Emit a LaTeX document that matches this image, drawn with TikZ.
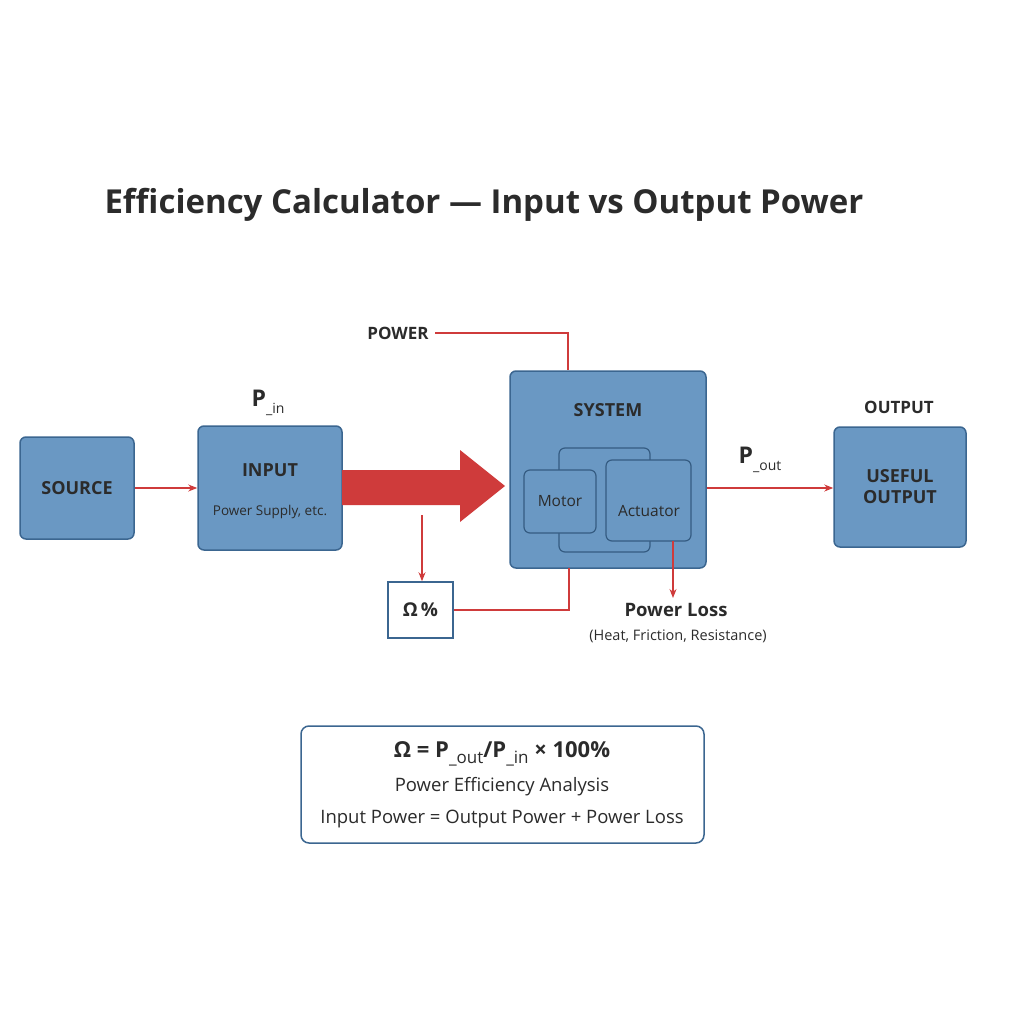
\documentclass[tikz,border=0pt]{standalone}
\usepackage{fontspec}
\setmainfont{Open Sans}
\usetikzlibrary{arrows.meta}
\definecolor{bfill}{HTML}{6A98C3}
\definecolor{bdraw}{HTML}{3B6690}
\definecolor{red1}{HTML}{CF3B3B}
\definecolor{txt}{HTML}{2B2B2B}
\begin{document}
\begin{tikzpicture}[x=1pt,y=-1pt,
 box/.style={draw=bdraw,fill=bfill,line width=1.5pt,rounded corners=6pt,inner sep=0},
 inner/.style={draw=bdraw!90!black,fill=bfill,line width=1.2pt,rounded corners=6pt},
 wbox/.style={draw=bdraw,fill=white,line width=1.5pt,inner sep=0},
 rl/.style={draw=red1,line width=1.2pt},
 ra/.style={rl,-{Stealth[length=9pt,width=7pt]}},
 lab/.style={text=txt,font=\bfseries\fontsize{18}{21}\selectfont},
 every node/.style={text=txt}]
\path[use as bounding box] (0,0) rectangle (1024,1024);
\node[font=\bfseries\fontsize{33}{38}\selectfont] (title) at (484,205) {Efficiency Calculator — Input vs Output Power};
\node[box,minimum width=114pt,minimum height=102pt] (src) at (77,488) {};
\node[lab] at (77,488) {SOURCE};
\node[box,minimum width=144pt,minimum height=124pt] (inp) at (270,488) {};
\node[lab] at (270,470) {INPUT};
\node[font=\fontsize{13.5}{15}\selectfont] at (270,512) {Power Supply, etc.};
\node[font=\bfseries\fontsize{23}{26}\selectfont] (pin) at (268,403) {P\raisebox{-0.5ex}{\fontsize{14}{15}\mdseries\selectfont \_in}};
\fill[red1] (342,470) -- (460,470) -- (460,450) -- (505,486) -- (460,522) -- (460,505) -- (342,505) -- cycle;
\node[box,minimum width=196pt,minimum height=197pt] (sys) at (608,469.5) {};
\node[lab] at (608,410) {SYSTEM};
\draw[inner] (559,448) rectangle (650,552);
\draw[inner] (524,470) rectangle (596,533);
\draw[inner] (606,460) rectangle (691,541);
\node[font=\fontsize{15.5}{18}\selectfont] (mot) at (560,501) {Motor};
\node[font=\fontsize{15.5}{18}\selectfont] (act) at (649,511) {Actuator};
\node[font=\bfseries\fontsize{17}{20}\selectfont] (pow) at (398,333) {POWER};
\draw[rl] (pow.east) ++(3,0) -- (568,333) -- (sys.north -| 568,0);
\draw[ra] (src.east) -- (inp.west);
\node[font=\bfseries\fontsize{23}{26}\selectfont] (pout) at (760,460) {P\raisebox{-0.5ex}{\fontsize{14}{15}\mdseries\selectfont \_out}};
\node[box,minimum width=132pt,minimum height=120pt] (use) at (900,487) {};
\node[lab,align=center] at (900,487) {USEFUL\\OUTPUT};
\node[font=\bfseries\fontsize{17}{20}\selectfont] at (899,407) {OUTPUT};
\draw[ra] (sys.east |- 0,488) -- (use.west |- 0,488);
\node[wbox,minimum width=65pt,minimum height=56pt] (eta) at (420.5,610) {};
\node[font=\bfseries\fontsize{19}{22}\selectfont] at (420.5,610) {Ω\,\%};
\coordinate (c1) at (422,515);
\draw[ra] (c1) -- (eta.north -| c1);
\draw[rl] (eta.east) -- (569,610) -- (569,568);
\coordinate (c2) at (673,541);
\draw[ra] (c2) -- (673,598);
\node[font=\bfseries\fontsize{18.5}{21}\selectfont] (pl) at (676,610) {Power Loss};
\node[font=\fontsize{14.5}{17}\selectfont] at (678,636) {(Heat, Friction, Resistance)};
\node[wbox,rounded corners=8pt,minimum width=403pt,minimum height=117pt] (form) at (502.5,784.5) {};
\node[font=\bfseries\fontsize{22}{26}\selectfont] at (502,754) {Ω = P\raisebox{-0.5ex}{\fontsize{17}{20}\mdseries\selectfont\_out}/P\raisebox{-0.5ex}{\fontsize{17}{20}\mdseries\selectfont\_in} × 100\%};
\node[font=\fontsize{18.5}{21}\selectfont] at (502,787) {Power Efficiency Analysis};
\node[font=\fontsize{18.5}{21}\selectfont] at (502,819) {Input Power = Output Power + Power Loss};
\end{tikzpicture}
\end{document}
